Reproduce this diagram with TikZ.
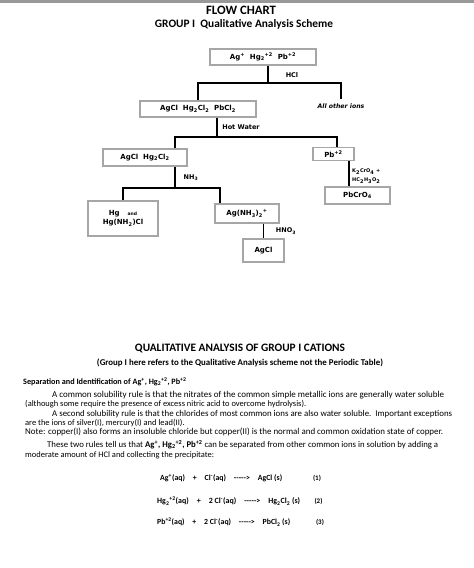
\documentclass[tikz,border=0pt]{standalone}
\usepackage{fontspec}
\usepackage{graphicx}
\setmainfont{Carlito}
\newfontfamily\vfont{DejaVu Sans}
\usetikzlibrary{positioning}
\newcommand{\arr}{\mbox{-}\mbox{-}\mbox{-}\mbox{-}\mbox{-}\mbox{>}}
\newcommand{\fitline}[2]{\resizebox{#1}{!}{#2}}

\begin{document}
\begin{tikzpicture}[x=1pt, y=-1pt,
  box/.style={draw=gray!70, line width=1.1pt, inner sep=1pt, align=center,
    font=\vfont\bfseries\fontsize{7}{9}\selectfont},
  lbl/.style={inner sep=0pt, font=\vfont\bfseries\fontsize{6.5}{8}\selectfont},
  wire/.style={line width=1.3pt},
  body/.style={anchor=west, inner sep=0pt, font=\fontsize{8.45}{9}\selectfont}]
  \fill[white] (0,0) rectangle (474,568);
  \useasboundingbox (0,0) rectangle (474,568);
  \fill[gray!80] (0,0) rectangle (474,2.6);

  % Titulos do esquema
  \node[inner sep=0pt, font=\bfseries\fontsize{12.5}{14}\selectfont] (title) at (241,10) {\fitline{70pt}{FLOW CHART}};
  \node[inner sep=0pt, font=\bfseries\fontsize{11}{12}\selectfont] (subtitle) at (244,24)
    {\fitline{178pt}{GROUP I\ \ Qualitative Analysis Scheme}};

  % Caixas do fluxograma
  \node[box, minimum width=106pt, minimum height=16pt] (ions) at (263,57)
    {Ag\textsuperscript{+}\ \ Hg\textsubscript{2}\textsuperscript{+2}\ \ Pb\textsuperscript{+2}};
  \node[box, minimum width=116pt, minimum height=16pt] (ppt) at (198,109)
    {AgCl\ \ Hg\textsubscript{2}Cl\textsubscript{2}\ \ PbCl\textsubscript{2}};
  \node[box, minimum width=84pt, minimum height=17pt] (agclhg) at (145,157.5)
    {AgCl\ \ Hg\textsubscript{2}Cl\textsubscript{2}};
  \node[box, minimum width=41pt, minimum height=13pt] (pb) at (333.5,154) {Pb\textsuperscript{+2}};
  \node[box, minimum width=65pt, minimum height=17pt] (pbcro) at (357.5,195.5) {PbCrO\textsubscript{4}};
  \node[box, minimum width=70pt, minimum height=35pt] (hgmix) at (123,218.5)
    {Hg\hspace{8pt}{\fontsize{4.5}{5}\selectfont and}\hspace{6pt}\\Hg(NH\textsubscript{2})Cl};
  \node[box, minimum width=64pt, minimum height=19pt] (agnh) at (247,213.5)
    {Ag(NH\textsubscript{3})\textsubscript{2}\textsuperscript{+}};
  \node[box, minimum width=41pt, minimum height=23pt] (agcl) at (263.5,250.5) {AgCl};

  % Reagentes
  \node[lbl] (hcl) at (292,75) {HCl};
  \node[lbl, font=\vfont\bfseries\itshape\fontsize{6.2}{8}\selectfont] (others) at (341,106) {All other ions};
  \node[lbl] (hot) at (241,127) {Hot Water};
  \node[lbl, anchor=west, align=left, font=\vfont\bfseries\fontsize{5}{9}\selectfont] (chromate) at (352,176.5)
    {K\textsubscript{2}CrO\textsubscript{4} +\\HC\textsubscript{2}H\textsubscript{3}O\textsubscript{2}};
  \node[lbl] (nh) at (191,178) {NH\textsubscript{3}};
  \node[lbl] (hno) at (286,231) {HNO\textsubscript{3}};

  % Ligacoes
  \coordinate (s1) at (268,83);
  \coordinate (s2) at (217,137);
  \coordinate (s3) at (175,188);
  \draw[wire] (ions.south -| s1) -- (s1);
  \draw[wire] (ppt.north) |- (s1) -| ([yshift=4pt]others.north);
  \draw[wire] (ppt.south -| s2) -- (s2);
  \draw[wire] (agclhg.north -| s3) |- (s2) -| ([xshift=3.5pt]pb.north);
  \draw[wire] (agclhg.south -| s3) -- (s3);
  \draw[wire] (hgmix.north) |- (s3) -| ([xshift=-27pt]agnh.north);
  \draw[wire] ([xshift=15.5pt]pb.south) -- ([xshift=15.5pt]pb.south |- pbcro.north);
  \draw[wire] (agcl.north |- agnh.south) -- (agcl.north);

  % Texto da segunda parte
  \node[inner sep=0pt, font=\bfseries\fontsize{11}{12}\selectfont] (qtitle) at (240,348)
    {\fitline{210pt}{QUALITATIVE ANALYSIS OF GROUP I CATIONS}};
  \node[inner sep=0pt, font=\bfseries\fontsize{8.5}{9}\selectfont] (qsub) at (240,363)
    {\fitline{286pt}{(Group I here refers to the Qualitative Analysis scheme not the Periodic Table)}};
  \node[body, font=\bfseries\fontsize{8.2}{9}\selectfont] (sep) at (23,382)
    {Separation and Identification of Ag\textsuperscript{+}, Hg\textsubscript{2}\textsuperscript{+2}, Pb\textsuperscript{+2}};
  % linhas cheias ajustadas a margem, as outras com largura natural
  \foreach \x/\y/\w/\txt [count=\i] in {
    52/395/392/{A common solubility rule is that the nitrates of the common simple metallic ions are generally water soluble},
    25/404/0/{(although some require the presence of excess nitric acid to overcome hydrolysis).},
    52/414/400/{A second solubility rule is that the chlorides of most common ions are also water soluble.\ \ Important exceptions},
    25/423/0/{are the ions of silver(I), mercury(I) and lead(II).},
    25/432/418/{Note: copper(I) also forms an insoluble chloride but copper(II) is the normal and common oxidation state of copper.},
    47/445/391/{These two rules tell us that \textbf{Ag\textsuperscript{+}, Hg\textsubscript{2}\textsuperscript{+2}, Pb\textsuperscript{+2}} can be separated from other common ions in solution by adding a},
    25/455/0/{moderate amount of HCl and collecting the precipitate:}}
  {
    \ifnum\w=0
      \node[body] (line\i) at (\x,\y) {\txt};
    \else
      \node[body] (line\i) at (\x,\y) {\fitline{\w pt}{\txt}};
    \fi
  }

  % Equacoes
  \foreach \x/\y/\w/\eq/\n/\nx [count=\i] in {
    160/478/122/{Ag\textsuperscript{+}(aq)\quad+\quad Cl\textsuperscript{-}(aq)\quad\arr\quad AgCl (s)}/1/317,
    157/501/143/{Hg\textsubscript{2}\textsuperscript{+2}(aq)\quad+\quad 2 Cl\textsuperscript{-}(aq)\quad\arr\quad Hg\textsubscript{2}Cl\textsubscript{2} (s)}/2/318.5,
    157/522/133/{Pb\textsuperscript{+2}(aq)\quad+\quad 2 Cl\textsuperscript{-}(aq)\quad\arr\quad PbCl\textsubscript{2} (s)}/3/320}
  {
    \node[body, font=\bfseries\fontsize{7}{8}\selectfont] (eq\i) at (\x,\y) {\fitline{\w pt}{\eq}};
    \node[body, font=\bfseries\fontsize{7}{8}\selectfont, anchor=center] (num\i) at (\nx,\y) {(\n)};
  }
\end{tikzpicture}
\end{document}
